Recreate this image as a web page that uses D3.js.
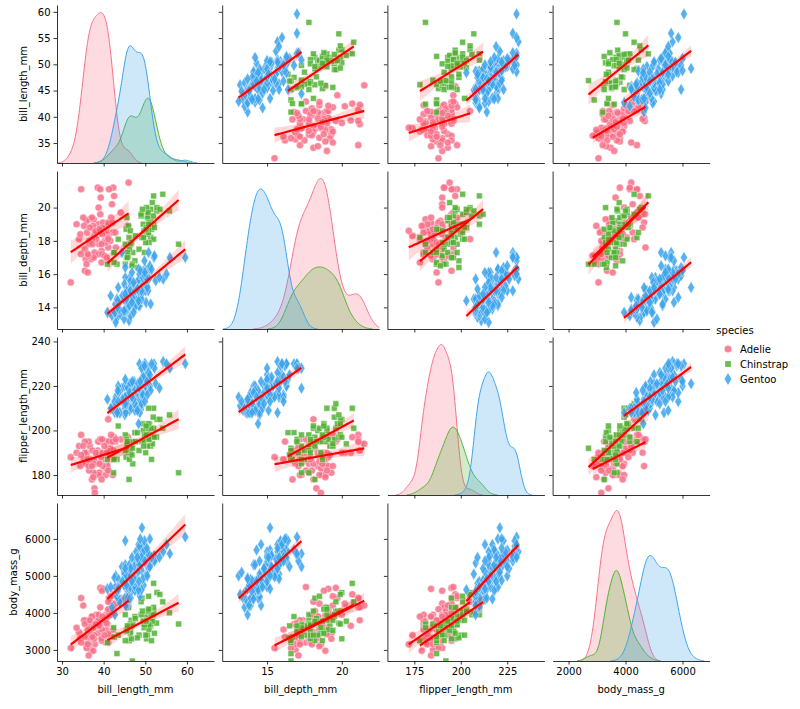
<!DOCTYPE html>
<html><head><meta charset="utf-8">
<script src="https://cdn.jsdelivr.net/npm/d3@7"></script>
<style>body{margin:0;background:#fff}text{font-family:"DejaVu Sans",sans-serif}</style>
</head><body><svg id="chart" width="800" height="709"></svg>
<script>
const variables = ["bill_length_mm", "bill_depth_mm", "flipper_length_mm", "body_mass_g"];
const domains = [[28.8, 66.5], [12.0, 22.5], [160.5, 245], [1440, 6950]];
const rowDomains = [[31.2, 61.3], [12.7, 22.2], [171, 242], [2700, 6970]];
const tickValues = [[30, 40, 50, 60], [15, 20], [175, 200, 225], [2000, 4000, 6000]];
const rowTicks = [[35, 40, 45, 50, 55, 60], [14, 16, 18, 20], [180, 200, 220, 240], [3000, 4000, 5000, 6000]];
const speciesNames = ["Adelie", "Chinstrap", "Gentoo"];
const speciesCounts = [152, 68, 124];
const colors = ["#f77189", "#50b131", "#3ba3ec"];

// [bill_length, bill_depth, flipper_length, body_mass]
const adelie = [[39.1,18.7,181,3750],[39.5,17.4,186,3800],[40.3,18,195,3250],[36.7,19.3,193,3450],[39.3,20.6,190,3650],[38.9,17.8,181,3625],[39.2,19.6,195,4675],[34.1,18.1,193,3475],[42,20.2,190,4250],[37.8,17.1,186,3300],[37.8,17.3,180,3700],[41.1,17.6,182,3200],[38.6,21.2,191,3800],[34.6,21.1,198,4400],[36.6,17.8,185,3700],[38.7,19,195,3450],[42.5,20.7,197,4500],[34.4,18.4,184,3325],[46,21.5,194,4200],[37.8,18.3,174,3400],[37.7,18.7,180,3600],[35.9,19.2,189,3800],[38.2,18.1,185,3950],[38.8,17.2,180,3800],[35.3,18.9,187,3800],[40.6,18.6,183,3550],[40.5,17.9,187,3200],[37.9,18.6,172,3150],[40.5,18.9,180,3950],[39.5,16.7,178,3250],[37.2,18.1,178,3900],[39.5,17.8,188,3300],[40.9,18.9,184,3900],[36.4,17,195,3325],[39.2,21.1,196,4150],[38.8,20,190,3950],[42.2,18.5,180,3550],[37.6,19.3,181,3300],[39.8,19.1,184,4650],[36.5,18,182,3150],[40.8,18.4,195,3900],[36,18.5,186,3100],[44.1,19.7,196,4400],[37,16.9,185,3000],[39.6,18.8,190,4600],[41.1,19,182,3425],[37.5,18.9,179,2975],[42.3,21.2,191,4150],[35.7,16.9,185,3150],[41.3,21.1,195,4400],[37.6,17,185,3600],[41.1,18.2,192,4050],[36.4,17.1,184,2850],[41.6,18,192,3950],[35.5,16.2,195,3350],[41.1,19.1,188,4100],[35.9,16.6,190,3050],[41.8,19.4,198,4450],[33.5,19,190,3600],[39.7,18.4,190,3900],[39.6,17.2,196,3550],[45.8,18.9,197,4150],[35.5,17.5,190,3700],[42.8,18.5,195,4250],[40.9,16.8,191,3700],[37.2,19.4,184,3900],[36.2,16.1,187,3550],[42.1,19.1,195,4000],[34.6,17.2,189,3200],[42.9,17.6,196,4700],[36.7,18.8,187,3800],[35.1,19.4,193,4200],[37.3,17.8,191,3350],[41.1,18.1,205,4300],[36.2,17.2,187,3150],[32.1,15.5,188,3050],[40.2,17.1,193,3400],[38.1,18.6,190,3700],[40.7,17,190,3725],[39,18.7,185,3650]];
const chinstrap = [[46.5,17.9,192,3500],[50,19.5,196,3900],[51.3,19.2,193,3650],[45.4,18.7,188,3525],[52.7,19.8,197,3725],[45.2,17.8,198,3950],[46.1,18.2,178,3250],[51.3,18.2,197,3750],[46,18.9,195,4150],[51.3,19.9,198,3700],[46.6,17.8,193,3800],[51.7,20.3,194,3775],[47,17.3,185,3700],[52,18.1,201,4050],[45.9,17.1,190,3575],[50.5,19.6,201,4050],[50.3,20,197,3300],[58,17.8,181,3700],[46.4,18.6,190,3450],[49.2,18.2,195,4400],[42.4,17.3,181,3600],[48.5,17.5,191,3400],[43.2,16.6,187,2900],[50.6,19.4,193,3800],[46.7,17.9,195,3300],[52,19,197,4150],[50.5,18.4,200,3400],[49.5,19,200,3800],[46.4,17.8,191,3700],[52.8,20,205,4550],[40.9,16.6,187,3200],[54.2,20.8,201,4300],[42.5,16.7,187,3350],[51,18.8,203,4100],[49.7,18.6,195,3600],[47.5,16.8,199,3900],[47.6,18.3,195,3850],[52,20.7,210,4800],[46.9,16.6,192,2700],[53.5,19.9,205,4500],[49,19.5,210,3950],[46.2,17.5,187,3650],[50.9,19.1,196,3550],[45.5,17,196,3500],[50.9,17.9,196,3675],[50.8,18.5,201,4450],[50.1,17.9,190,3400],[49,19.6,212,4300],[51.5,18.7,187,3250],[49.8,17.3,198,3675],[48.1,16.4,199,3325],[51.4,19,201,3950],[45.7,17.3,193,3600],[50.7,19.7,203,4050],[42.5,17.3,187,3350],[52.2,18.8,197,3450],[45.2,16.6,191,3250],[49.3,19.9,203,4050],[50.2,18.8,202,3800],[45.6,19.4,194,3525],[51.9,19.5,206,3950],[46.8,16.5,189,3650],[45.7,17,195,3650],[55.8,19.8,207,4000],[43.5,18.1,202,3400],[49.6,18.2,193,3775],[50.8,19,210,4100],[50.2,18.7,198,3775]];
const gentoo = [[46.1,13.2,211,4500],[50,16.3,230,5700],[48.7,14.1,210,4450],[50,15.2,218,5700],[47.6,14.5,215,5400],[46.5,13.5,210,4550],[45.4,14.6,211,4800],[46.7,15.3,219,5200],[43.3,13.4,209,4400],[46.8,15.4,215,5150],[40.9,13.7,214,4650],[49,16.1,216,5550],[45.5,13.7,214,4650],[48.4,14.6,213,5850],[45.8,14.6,210,4200],[49.3,15.7,217,5850],[42,13.5,210,4150],[49.2,15.2,221,6300],[46.2,14.5,209,4800],[48.7,15.1,222,5350],[50.2,14.3,218,5700],[45.1,14.5,215,5000],[46.5,14.5,213,4400],[46.3,15.8,215,5050],[42.9,13.1,215,5000],[46.1,15.1,215,5100],[47.8,15,215,5650],[48.2,14.3,210,4600],[50,15.3,220,5550],[47.3,15.3,222,5250],[42.8,14.2,209,4700],[45.1,14.5,207,5050],[59.6,17,230,6050],[49.1,14.8,220,5150],[48.4,16.3,220,5400],[42.6,13.7,213,4950],[44.4,17.3,219,5250],[44,13.6,208,4350],[48.7,15.7,208,5350],[42.7,13.7,208,3950],[49.6,16,225,5700],[45.3,13.7,210,4300],[49.6,15,216,4750],[50.5,15.9,222,5550],[43.6,13.9,217,4900],[45.5,13.9,210,4200],[50.5,15.9,225,5400],[44.9,13.3,213,5100],[45.2,15.8,215,5300],[46.6,14.2,210,4850],[48.5,14.1,220,5300],[45.1,14.4,210,4400],[50.1,15,225,5000],[46.5,14.4,217,4900],[45,15.4,220,5050],[43.8,13.9,208,4300],[45.5,15,220,5000],[43.2,14.5,208,4450],[50.4,15.3,224,5550],[45.3,13.8,208,4200],[46.2,14.9,221,5300],[45.7,13.9,214,4400],[54.3,15.7,231,5650],[45.8,14.2,219,4700],[49.8,16.8,230,5700],[49.5,16.2,229,5800],[43.5,14.2,220,4700],[50.7,15,223,5550],[47.7,15,216,4750],[46.4,15.6,221,5000],[48.2,15.6,221,5100],[46.5,14.8,217,5200],[46.4,15,216,4700],[48.6,16,230,5800],[47.5,14.2,209,4600],[51.1,16.3,220,6000],[45.2,13.8,215,4750],[45.2,16.4,223,5950],[49.1,14.5,212,4625],[52.5,15.6,221,5450],[47.4,14.6,212,4725],[50,15.9,224,5350],[44.9,13.8,212,4750],[50.8,17.3,228,5600],[43.4,14.4,218,4600],[51.3,14.2,218,5300],[47.5,14,212,4875],[52.1,17,230,5550],[47.5,15,218,4950],[52.2,17.1,228,5400],[45.5,14.5,212,4750],[49.5,16.1,224,5650],[44.5,14.7,214,4850],[50.8,15.7,226,5200],[49.4,15.8,216,4925],[46.9,14.6,222,4875],[48.4,14.4,203,4625],[51.1,16.5,225,5250],[48.5,15,219,4850],[55.9,17,228,5600],[47.2,15.5,215,4975],[49.1,15,228,5500],[46.8,16.1,215,5500],[41.7,14.7,210,4700],[53.4,15.8,219,5500],[43.3,14,208,4575],[48.1,15.1,209,5500],[50.5,15.2,216,5000],[49.8,15.9,229,5950],[43.5,15.2,213,4650],[51.5,16.3,230,5500],[46.2,14.1,217,4375],[55.1,16,230,5850],[48.8,16.2,222,6000],[47.2,13.7,214,4925],[46.8,14.3,215,4850],[50.4,15.7,222,5750],[45.2,14.8,212,5200],[49.9,16.1,213,5400]];
const groups = [adelie, chinstrap, gentoo];

const left0 = 57, top0 = 5, pw = 157, ph = 158, gx = 8.2, gy = 8;
const svg = d3.select('#chart');
const total = d3.sum(speciesCounts);
const symbols = [d3.symbolCircle, d3.symbolSquare, d3.symbolDiamond];
const symSizes = [40, 34, 42];

function kde(values, grid) {
    const n = values.length, sd = d3.deviation(values);
    const bw = sd * Math.pow(n, -0.2);
    return grid.map(x => [x, d3.sum(values, v => Math.exp(-0.5 * ((x - v) / bw) ** 2)) / (n * bw * Math.sqrt(2 * Math.PI))]);
}

function fitLine(xs, ys) {
    const n = xs.length, mx = d3.mean(xs), my = d3.mean(ys);
    let sxx = 0, sxy = 0;
    xs.forEach((x, i) => { sxx += (x - mx) ** 2; sxy += (x - mx) * (ys[i] - my); });
    const b = sxy / sxx, a = my - b * mx;
    const s2 = d3.sum(xs, (x, i) => (ys[i] - a - b * x) ** 2) / (n - 2);
    return { a, b, se: x => Math.sqrt(s2 * (1 / n + (x - mx) ** 2 / sxx)) };
}

for (let r = 0; r < 4; r++) {
    for (let c = 0; c < 4; c++) {
        const px = left0 + c * (pw + gx), py = top0 + r * (ph + gy);
        const g = svg.append('g').attr('transform', `translate(${px},${py})`);
        const x = d3.scaleLinear().domain(domains[c]).range([0, pw]);
        const y = d3.scaleLinear().domain(rowDomains[r]).range([ph, 0]);
        const clipId = `clip${r}${c}`;
        g.append('clipPath').attr('id', clipId).append('rect').attr('width', pw).attr('height', ph);
        const plot = g.append('g').attr('clip-path', `url(#${clipId})`);

        if (r === c) {
            const grid = d3.range(0, 301).map(i => domains[c][0] + (domains[c][1] - domains[c][0]) * i / 300);
            // weight each species by its count in the full dataset (common_norm)
            const curves = groups.map((gr, i) => kde(gr.map(d => d[c]), grid).map(([gx0, d]) => [gx0, d * speciesCounts[i] / total]));
            const ymax = d3.max(curves, cv => d3.max(cv, p => p[1]));
            const yd = d3.scaleLinear().domain([0, ymax * 1.05]).range([ph, 0]);
            curves.forEach((cv, i) => {
                const pts = cv.filter(p => p[1] > ymax * 0.001);
                plot.append('path').datum(pts)
                    .attr('d', d3.area().x(p => x(p[0])).y0(ph).y1(p => yd(p[1])))
                    .attr('fill', colors[i]).attr('fill-opacity', 0.25);
                plot.append('path').datum(pts)
                    .attr('d', d3.line().x(p => x(p[0])).y(p => yd(p[1])))
                    .attr('fill', 'none').attr('stroke', colors[i]).attr('stroke-width', 1);
            });
        } else {
            groups.forEach((gr, i) => {
                plot.selectAll(null).data(gr).enter().append('path')
                    .attr('d', d3.symbol().type(symbols[i]).size(symSizes[i]))
                    .attr('transform', d => `translate(${x(d[c])},${y(d[r])})`)
                    .attr('fill', colors[i]).attr('fill-opacity', 0.85)
                    .attr('stroke', '#fff').attr('stroke-width', 0.4);
            });
            groups.forEach(gr => {
                const xs = gr.map(d => d[c]), ys = gr.map(d => d[r]);
                const f = fitLine(xs, ys);
                const ext = d3.extent(xs);
                const pts = d3.range(0, 51).map(k => ext[0] + (ext[1] - ext[0]) * k / 50);
                plot.append('path').datum(pts)
                    .attr('d', d3.area().x(v => x(v))
                        .y0(v => y(f.a + f.b * v - 1.98 * f.se(v)))
                        .y1(v => y(f.a + f.b * v + 1.98 * f.se(v))))
                    .attr('fill', 'red').attr('fill-opacity', 0.15);
                plot.append('path').datum(pts)
                    .attr('d', d3.line().x(v => x(v)).y(v => y(f.a + f.b * v)))
                    .attr('fill', 'none').attr('stroke', 'red').attr('stroke-width', 2.2);
            });
        }

        // axes
        const xAxis = d3.axisBottom(x).tickValues(tickValues[c]).tickSize(3.5).tickSizeOuter(0).tickFormat(d3.format('d'));
        if (r < 3) xAxis.tickFormat('');
        g.append('g').attr('transform', `translate(0,${ph})`).call(xAxis);
        if (r !== c || c === 0) {
            const yAxis = d3.axisLeft(y).tickValues(rowTicks[r]).tickSize(3.5).tickSizeOuter(0).tickFormat(d3.format('d'));
            if (c > 0) yAxis.tickFormat('');
            g.append('g').call(yAxis);
        }
        g.selectAll('.domain').attr('stroke', '#000').attr('stroke-width', 0.8);
        g.selectAll('.tick line').attr('stroke', '#000').attr('stroke-width', 0.8);
        g.selectAll('.tick text').attr('font-size', 10).attr('fill', '#000');

        if (r === 3) g.append('text').attr('x', pw / 2).attr('y', ph + 32).attr('text-anchor', 'middle')
            .attr('font-size', 10).text(variables[c]);
        if (c === 0) g.append('text').attr('transform', `translate(${r === 3 ? -40 : -30},${ph / 2}) rotate(-90)`)
            .attr('text-anchor', 'middle').attr('font-size', 10).text(variables[r]);
    }
}

// legend
const leg = svg.append('g').attr('transform', 'translate(720,334)');
leg.append('text').attr('x', 15).attr('y', 0).attr('text-anchor', 'middle').attr('font-size', 10).text('species');
speciesNames.forEach((s, i) => {
    leg.append('path').attr('d', d3.symbol().type(symbols[i]).size(symSizes[i]))
        .attr('transform', `translate(8,${15 + i * 15})`).attr('fill', colors[i]).attr('fill-opacity', 0.85);
    leg.append('text').attr('x', 20).attr('y', 19 + i * 15).attr('font-size', 10).text(s);
});
</script></body></html>
